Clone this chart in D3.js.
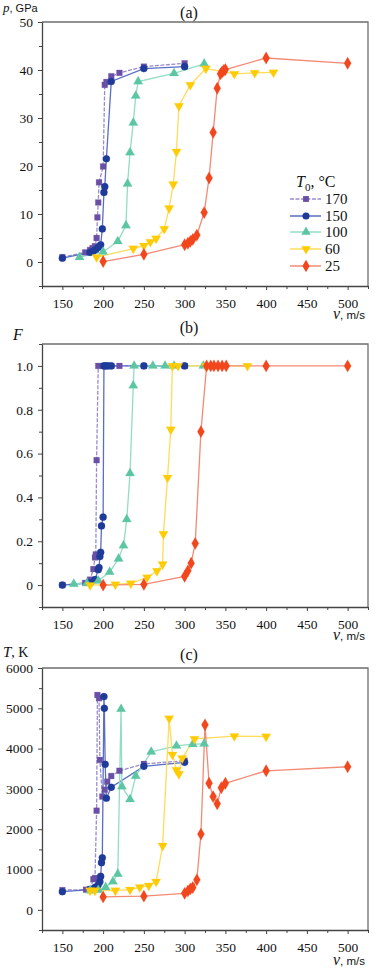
<!DOCTYPE html>
<html><head><meta charset="utf-8">
<script src="https://cdn.jsdelivr.net/npm/d3@7"></script>
<style>
body{margin:0;background:#fff;}
svg{display:block;}
</style></head>
<body>
<svg id="c" width="378" height="968"></svg>
<script>
// ---- data ----
const seriesNames = ["170", "150", "100", "60", "25"];
const xTicks = [150, 200, 250, 300, 350, 400, 450, 500];
const pTicks = [0, 10, 20, 30, 40, 50];
const fTicks = [0, 0.2, 0.4, 0.6, 0.8, 1.0];
const tTicks = [0, 1000, 2000, 3000, 4000, 5000, 6000];

// panel (a): pressure p, GPa  [v, p]
const a170 = [[150,1.0],[178,2.0],[184,2.5],[187,2.9],[190,3.3],[192,5.0],[193,9.3],[194,12.4],[195,16.6],[200,19.9],[202,36.9],[204,37.5],[210,38.7],[220,39.4],[250,40.7],[300,41.4]];
const a150 = [[150,0.8],[184,2.0],[188,2.3],[191,2.6],[194,3.0],[197,3.6],[199,6.9],[201,14.5],[202,15.7],[204,21.5],[210,37.6],[250,40.3],[300,40.7]];
const a100 = [[171,1.0],[200,2.1],[218,4.3],[228,7.6],[230,16.3],[233,22.8],[237,29.0],[240,34.6],[243,37.6],[287,39.3],[324,41.3]];
const a60  = [[192,1.0],[237,2.8],[250,3.4],[258,4.2],[265,4.9],[275,6.9],[281,11.2],[286,16.2],[290,23.0],[293,32.5],[307,36.9],[326,40.3],[361,39.2],[386,39.4],[409,39.5]];
const a25  = [[200,0.1],[250,1.6],[300,3.6],[304,3.9],[307,4.3],[310,4.7],[315,5.6],[324,10.3],[330,17.5],[335,27.0],[340,36.2],[344,39.2],[346,39.6],[348,39.9],[350,40.1],[400,42.5],[500,41.4]];

// panel (b): fraction F  [v, F]
const b170 = [[150,0],[178,0.01],[184,0.025],[188,0.073],[190,0.126],[191,0.14],[192,0.57],[194,1.0],[200,1.0],[204,1.0],[210,1.0],[220,1.0],[250,1.0],[300,1.0]];
const b150 = [[150,0],[184,0.01],[190,0.025],[194,0.07],[195,0.08],[196,0.13],[197,0.15],[198,0.27],[200,0.31],[201,1.0],[203,1.0],[206,1.0],[210,1.0],[250,1.0],[300,1.0]];
const b100 = [[164,0.005],[180,0.008],[194,0.02],[208,0.06],[219,0.12],[225,0.18],[229,0.30],[233,0.51],[237,0.91],[238,1.0],[261,1.0],[276,1.0],[287,1.0],[323,1.0]];
const b60  = [[184,0],[215,0.003],[234,0.008],[254,0.035],[266,0.064],[273,0.095],[274,0.233],[279,0.49],[283,0.71],[285,1.0],[292,1.0],[326,1.0],[377,1.0]];
const b25  = [[200,0],[250,0.003],[300,0.04],[304,0.065],[308,0.10],[313,0.19],[320,0.70],[327,1.0],[332,1.0],[336,1.0],[341,1.0],[346,1.0],[351,1.0],[400,1.0],[500,1.0]];

// panel (c): temperature T, K  [v, T]
const c170 = [[150,490],[179,500],[184,520],[188,760],[190,790],[192,2460],[193,5330],[195,5250],[196,3720],[199,2810],[202,2980],[205,3180],[210,3320],[220,3450],[250,3620],[300,3700]];
const c150 = [[150,450],[184,500],[190,560],[194,620],[196,700],[197,830],[198,1170],[199,1290],[201,5290],[201.5,5000],[202.5,3610],[204,2770],[210,3040],[250,3560],[300,3660]];
const c100 = [[184,480],[194,490],[203,560],[212,700],[218,890],[222,4980],[223,3060],[233,2740],[240,3320],[259,3920],[290,4070],[310,4110],[324,4120]];
const c60  = [[184,480],[190,480],[215,480],[233,500],[245,560],[256,600],[265,700],[273,1590],[281,4750],[285,3850],[290,3470],[293,3370],[297,3760],[312,4240],[361,4310],[400,4300]];
const c25  = [[200,320],[250,340],[300,410],[304,470],[307,520],[310,555],[315,745],[320,1880],[325,4590],[330,3140],[335,2810],[340,2630],[345,3030],[350,3140],[400,3450],[500,3550]];

// ---- styles ----
const SERIF = "Liberation Serif, DejaVu Serif, serif";
const SANS = "Liberation Sans, DejaVu Sans, sans-serif";
const styles = {
  "170": {fill:"#6a4fa6", line:"#9a8ccc", sym:d3.symbolSquare, size:34, rot:0, dash:"4,1.5"},
  "150": {fill:"#1f3b99", line:"#5a6fc2", sym:d3.symbolCircle, size:40, rot:0, dash:null},
  "100": {fill:"#5cc6a3", line:"#93dcc5", sym:d3.symbolTriangle, size:38, rot:0, dash:null},
  "60":  {fill:"#ffcb05", line:"#ffdc5a", sym:d3.symbolTriangle, size:38, rot:180, dash:null},
  "25":  {fill:"#f2461c", line:"#f38a75", sym:d3.symbolDiamond, size:44, rot:0, dash:null}
};

const svg = d3.select("#c").attr("font-family", SERIF);
const L = 42, R = 368;
const x = d3.scaleLinear().domain([125, 525]).range([L, R]);

function panel(cfg) {
  const y = d3.scaleLinear().domain(cfg.domain).range([cfg.bottom, cfg.top]);
  const g = svg.append("g");
  g.append("path").attr("d", `M${L},${cfg.top}H${R}V${cfg.bottom}`)
    .attr("fill","none").attr("stroke","#6e6e6e").attr("stroke-width",1.3);
  const xMinor = d3.range(125, 526, 25).filter(v => !xTicks.includes(v));
  const gxm = g.append("g").attr("transform",`translate(0,${cfg.bottom})`)
    .call(d3.axisBottom(x).tickValues(xMinor).tickSize(3).tickFormat(""));
  const gx = g.append("g").attr("transform",`translate(0,${cfg.bottom})`)
    .call(d3.axisBottom(x).tickValues(xTicks).tickSize(4).tickPadding(8).tickSizeOuter(0));
  const gym = g.append("g").attr("transform",`translate(${L},0)`)
    .call(d3.axisLeft(y).tickValues(cfg.minor).tickSize(3).tickFormat(""));
  const gy = g.append("g").attr("transform",`translate(${L},0)`)
    .call(d3.axisLeft(y).tickValues(cfg.ticks).tickSize(4).tickPadding(5).tickSizeOuter(0).tickFormat(cfg.fmt));
  [gxm,gx,gym,gy].forEach(a => {
    a.attr("font-family", SERIF).attr("font-size", 13.5);
    a.select(".domain").attr("stroke","#444").attr("stroke-width",1.3);
    a.selectAll(".tick line").attr("stroke","#444").attr("stroke-width",1);
    a.selectAll("text").attr("fill","#111");
  });
  gxm.select(".domain").remove(); gym.select(".domain").remove();

  const line = d3.line().x(d => x(d[0])).y(d => y(d[1]));
  cfg.data.forEach((ds, i) => {
    const st = styles[seriesNames[i]];
    g.append("path").datum(ds).attr("d", line).attr("fill","none")
      .attr("stroke", st.line).attr("stroke-width", 1.3)
      .attr("stroke-dasharray", st.dash);
  });
  cfg.data.forEach((ds, i) => {
    const st = styles[seriesNames[i]];
    g.append("g").selectAll("path").data(ds).join("path")
      .attr("d", d3.symbol().type(st.sym).size(st.size))
      .attr("transform", d => `translate(${x(d[0])},${y(d[1])}) rotate(${st.rot})`)
      .attr("fill", st.fill).attr("stroke", st.fill).attr("stroke-width", 0.4).attr("stroke-opacity",0.5);
  });

  g.append("text").attr("x", 189).attr("y", cfg.titleY).attr("text-anchor","middle")
    .attr("font-size",16).attr("fill","#111").text(cfg.title);
  const xl = g.append("text").attr("x", 365).attr("y", cfg.xlabY).attr("text-anchor","end").attr("fill","#111");
  xl.append("tspan").attr("font-style","italic").attr("font-size",16).text("v");
  xl.append("tspan").attr("font-family", SANS).attr("font-size",11.5).text(", m/s");
  return {g, y};
}

panel({top:22, bottom:286, domain:[-5,50], ticks:pTicks, minor:[-5,5,15,25,35,45],
  fmt:d3.format("d"), data:[a170,a150,a100,a60,a25], title:"(a)", titleY:18, xlabY:319});
panel({top:344, bottom:607, domain:[-0.1,1.1], ticks:fTicks, minor:[-0.1,0.1,0.3,0.5,0.7,0.9,1.1],
  fmt:d => d === 0 ? "0" : d3.format(".1f")(d), data:[b170,b150,b100,b60,b25], title:"(b)", titleY:333, xlabY:640});
panel({top:668, bottom:930, domain:[-500,6000], ticks:tTicks, minor:[-500,500,1500,2500,3500,4500,5500],
  fmt:d3.format("d"), data:[c170,c150,c100,c60,c25], title:"(c)", titleY:660, xlabY:965});

// y-axis labels
let t = svg.append("text").attr("x", 3).attr("y", 11.8).attr("fill","#111");
t.append("tspan").attr("font-style","italic").attr("font-size",13).text("p");
t.append("tspan").attr("font-family", SANS).attr("font-size",11).text(", GPa");
svg.append("text").attr("x", 13).attr("y", 340).attr("font-style","italic").attr("font-size",16).attr("fill","#111").text("F");
t = svg.append("text").attr("x", 3).attr("y", 657).attr("fill","#111");
t.append("tspan").attr("font-style","italic").attr("font-size",15).text("T");
t.append("tspan").attr("font-size",14).text(", K");

// legend in panel (a)
const lg = svg.append("g");
t = lg.append("text").attr("x", 296).attr("y", 187).attr("font-size",16).attr("fill","#111");
t.append("tspan").attr("font-style","italic").text("T");
t.append("tspan").attr("font-size",11).attr("dy",4).text("0");
t.append("tspan").attr("dy",-4).text(", °C");
const legY = [199, 216, 232, 249, 266];
seriesNames.forEach((n, i) => {
  const st = styles[n];
  lg.append("line").attr("x1",290).attr("x2",321).attr("y1",legY[i]).attr("y2",legY[i])
    .attr("stroke",st.line).attr("stroke-width",1.5).attr("stroke-dasharray",st.dash);
  lg.append("path").attr("d", d3.symbol().type(st.sym).size(st.size)())
    .attr("transform",`translate(306,${legY[i]}) rotate(${st.rot})`).attr("fill",st.fill);
  lg.append("text").attr("x",325).attr("y",legY[i]+5).attr("font-size",15).attr("fill","#111").text(n);
});
</script>
</body></html>
